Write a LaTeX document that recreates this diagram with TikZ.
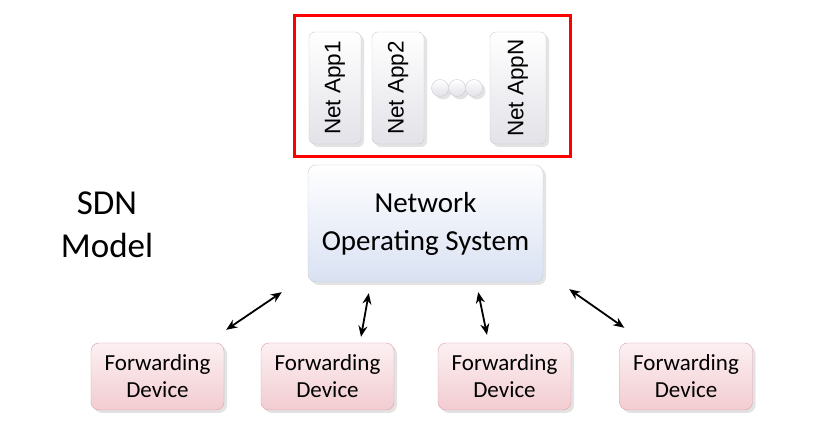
\documentclass[tikz,border=0pt]{standalone}
\usepackage{fontspec}
\setmainfont{Carlito}
\newfontfamily\appfont{Liberation Sans}
\usetikzlibrary{shadows,arrows.meta}
\definecolor{fdtop}{HTML}{FCF0F2}
\definecolor{fdbot}{HTML}{F2CCD1}
\definecolor{fdline}{HTML}{D9A3AA}
\definecolor{nosbot}{HTML}{D9E1F2}
\definecolor{boxline}{HTML}{C9CCD6}
\definecolor{appbot}{HTML}{E2E2E8}
\tikzset{
  softshadow/.style={drop shadow={opacity=0.22,shadow xshift=3pt,shadow yshift=-3pt}},
  appbox/.style={draw=boxline,rounded corners=6pt,top color=white,bottom color=appbot,
    softshadow,rotate=90,minimum height=52,font=\appfont\fontsize{22.5}{24}\selectfont},
  dot/.style={draw=boxline,top color=white,bottom color=appbot,softshadow,circle,minimum size=17,inner sep=0pt},
  osbox/.style={draw=boxline,rounded corners=8pt,top color=white,bottom color=nosbot,
    softshadow,minimum width=235,minimum height=117,align=center,font=\fontsize{29}{38}\selectfont},
  fwdbox/.style={draw=fdline,rounded corners=8pt,top color=fdtop,bottom color=fdbot,
    softshadow,minimum width=133,minimum height=67,align=center,font=\fontsize{23}{27}\selectfont},
  link/.style={{Stealth[length=11pt,width=9pt]}-{Stealth[length=11pt,width=9pt]},line width=1.8pt}
}
\begin{document}
\begin{tikzpicture}[x=1pt,y=1pt]
\useasboundingbox[fill=white] (0,0) rectangle (840,430);
% applications
\node[draw=red,line width=2.5pt,minimum width=276,minimum height=141] (apps) at (432.5,344) {};
\node[appbox,minimum width=112] (app1) at (335,342) {Net App1};
\node[appbox,minimum width=112] (app2) at (398,342) {Net App2};
\node[appbox,minimum width=112,minimum height=56] (appN) at (518,342) {Net AppN};
\foreach \x [count=\i] in {440,457,474}
  \node[dot] (dot\i) at (\x,342) {};
% controller
\node[osbox] (nos) at (425.5,206.5) {Network\\Operating System};
\node[align=center,font=\fontsize{35}{43}\selectfont] (model) at (107,205.5) {SDN\\Model};
% switches
\foreach \x [count=\i] in {157.5,327.5,504.5,686}
  \node[fwdbox] (fd\i) at (\x,53.5) {Forwarding\\Device};
\draw[link] ([shift={(-26,-10)}]nos.south west) -- ([shift={(2,13)}]fd1.north east);
\draw[link] ([shift={(61,-11)}]nos.south west) -- ([shift={(33.5,6)}]fd2.north);
\draw[link] ([shift={(-65,-10)}]nos.south east) -- ([shift={(-17.5,8)}]fd3.north);
\draw[link] ([shift={(26,-7)}]nos.south east) -- ([shift={(5,15)}]fd4.north west);
\end{tikzpicture}
\end{document}
